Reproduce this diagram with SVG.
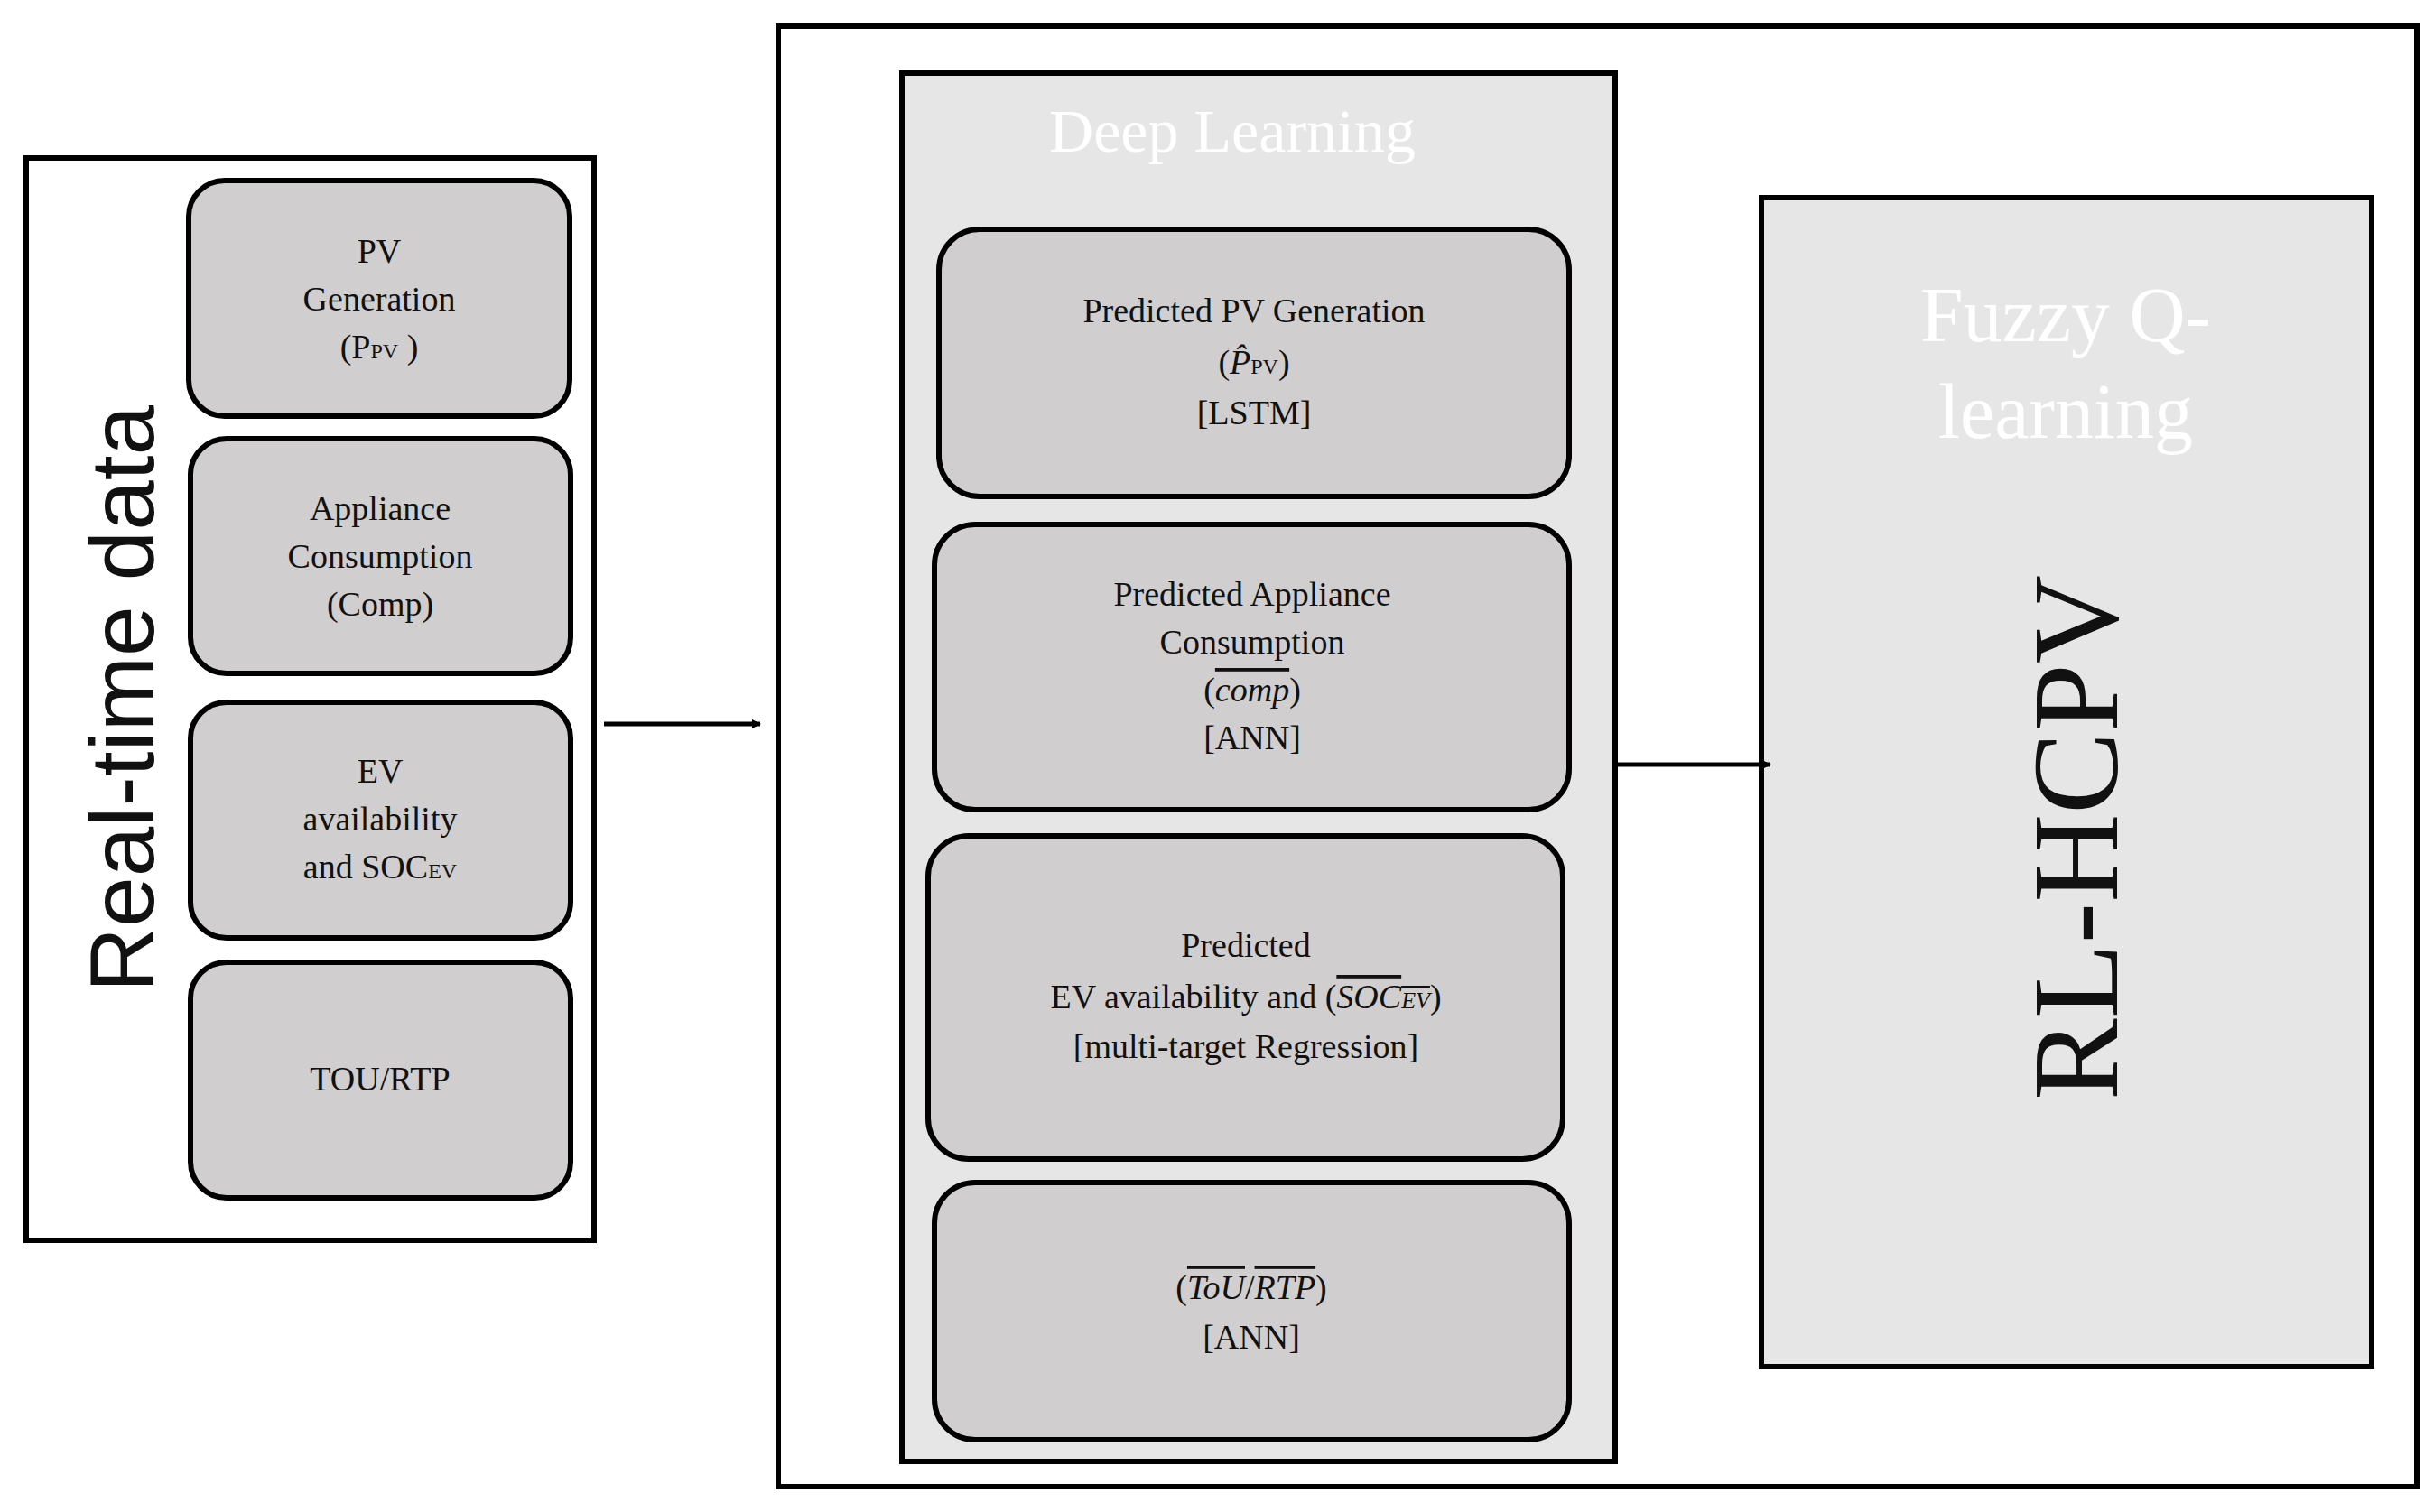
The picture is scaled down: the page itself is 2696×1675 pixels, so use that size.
<svg xmlns="http://www.w3.org/2000/svg" width="2696" height="1675" viewBox="0 0 2696 1675">
<defs>
<style>
.frame{fill:#fff;stroke:#000;stroke-width:6}
.panel{fill:#e6e6e6;stroke:#000;stroke-width:6}
.node{fill:#d0cece;stroke:#000;stroke-width:6}
.t{font-family:"Liberation Serif",serif;font-size:38px;fill:#111;text-anchor:middle}
.w{font-family:"Liberation Serif",serif;fill:#fff;text-anchor:middle}
.conn{stroke:#000;stroke-width:5;fill:none}
</style>
<marker id="ah" markerWidth="10" markerHeight="10" refX="9" refY="5" orient="auto" markerUnits="userSpaceOnUse" viewBox="0 0 10 10"><path d="M0,0 L10,5 L0,10 z" fill="#000"/></marker>
</defs>
<rect width="2696" height="1675" fill="#fff"/>
<g id="realtime">
<rect class="frame" x="29" y="175" width="629" height="1199"/>
<text transform="translate(170,774) rotate(-90)" font-family="Liberation Sans,sans-serif" font-size="100" text-anchor="middle" fill="#111">Real-time data</text>
</g>
<g id="pv"><rect class="node" x="209" y="200" width="422" height="261" rx="40"/>
<text class="t" x="420" y="291">PV</text><text class="t" x="420" y="344">Generation</text><text class="t" x="420" y="397">(P<tspan font-size="24">PV</tspan> )</text></g>
<g id="app"><rect class="node" x="211" y="486" width="421" height="260" rx="40"/>
<text class="t" x="421" y="576">Appliance</text><text class="t" x="421" y="629">Consumption</text><text class="t" x="421" y="682">(Comp)</text></g>
<g id="ev"><rect class="node" x="211" y="778" width="421" height="261" rx="40"/>
<text class="t" x="421" y="867">EV</text><text class="t" x="421" y="920">availability</text><text class="t" x="421" y="973">and SOC<tspan font-size="24">EV</tspan></text></g>
<g id="tou"><rect class="node" x="211" y="1066" width="421" height="261" rx="40"/>
<text class="t" x="421" y="1208">TOU/RTP</text></g>
<g id="outer"><rect class="frame" x="862" y="29" width="1815" height="1618"/></g>
<g id="deep">
<rect class="panel" x="999" y="81" width="790" height="1538"/>
<text class="w" x="1365" y="168" font-size="68">Deep Learning</text>
</g>
<g id="ppv"><rect class="node" x="1040" y="254" width="698" height="296" rx="45"/>
<text class="t" x="1389" y="357">Predicted PV Generation</text>
<text class="t" x="1389" y="414">(<tspan font-style="italic">P̂</tspan><tspan font-size="24">PV</tspan>)</text>
<text class="t" x="1389" y="470">[LSTM]</text></g>
<g id="pcomp"><rect class="node" x="1035" y="581" width="703" height="316" rx="45"/>
<text class="t" x="1387" y="671">Predicted Appliance</text>
<text class="t" x="1387" y="724">Consumption</text>
<text class="t" x="1387" y="777">(<tspan font-style="italic" text-decoration="overline">comp</tspan>)</text>
<text class="t" x="1387" y="830">[ANN]</text></g>
<g id="pev"><rect class="node" x="1028" y="926" width="703" height="358" rx="45"/>
<text class="t" x="1380" y="1060">Predicted</text>
<text class="t" x="1380" y="1117">EV availability and (<tspan font-style="italic" text-decoration="overline">SOC<tspan font-size="26">EV</tspan></tspan>)</text>
<text class="t" x="1380" y="1172">[multi-target Regression]</text></g>
<g id="ptou"><rect class="node" x="1035" y="1310" width="703" height="285" rx="45"/>
<text class="t" x="1386" y="1439">(<tspan font-style="italic" text-decoration="overline">ToU</tspan>/<tspan font-style="italic" text-decoration="overline">RTP</tspan>)</text>
<text class="t" x="1386" y="1494">[ANN]</text></g>
<g id="fuzzy">
<rect class="panel" x="1951" y="219" width="676" height="1295"/>
<text class="w" x="2288" y="378" font-size="86">Fuzzy Q-</text>
<text class="w" x="2288" y="485" font-size="86">learning</text>
<text transform="translate(2345,928) rotate(-90)" font-family="Liberation Serif,serif" font-size="136" text-anchor="middle" fill="#111">RL-HCPV</text>
</g>
<g id="connectors">
<line class="conn" x1="669" y1="802" x2="842" y2="802" marker-end="url(#ah)"/>
<line class="conn" x1="1792" y1="847" x2="1961" y2="847" marker-end="url(#ah)"/>
</g>
</svg>
